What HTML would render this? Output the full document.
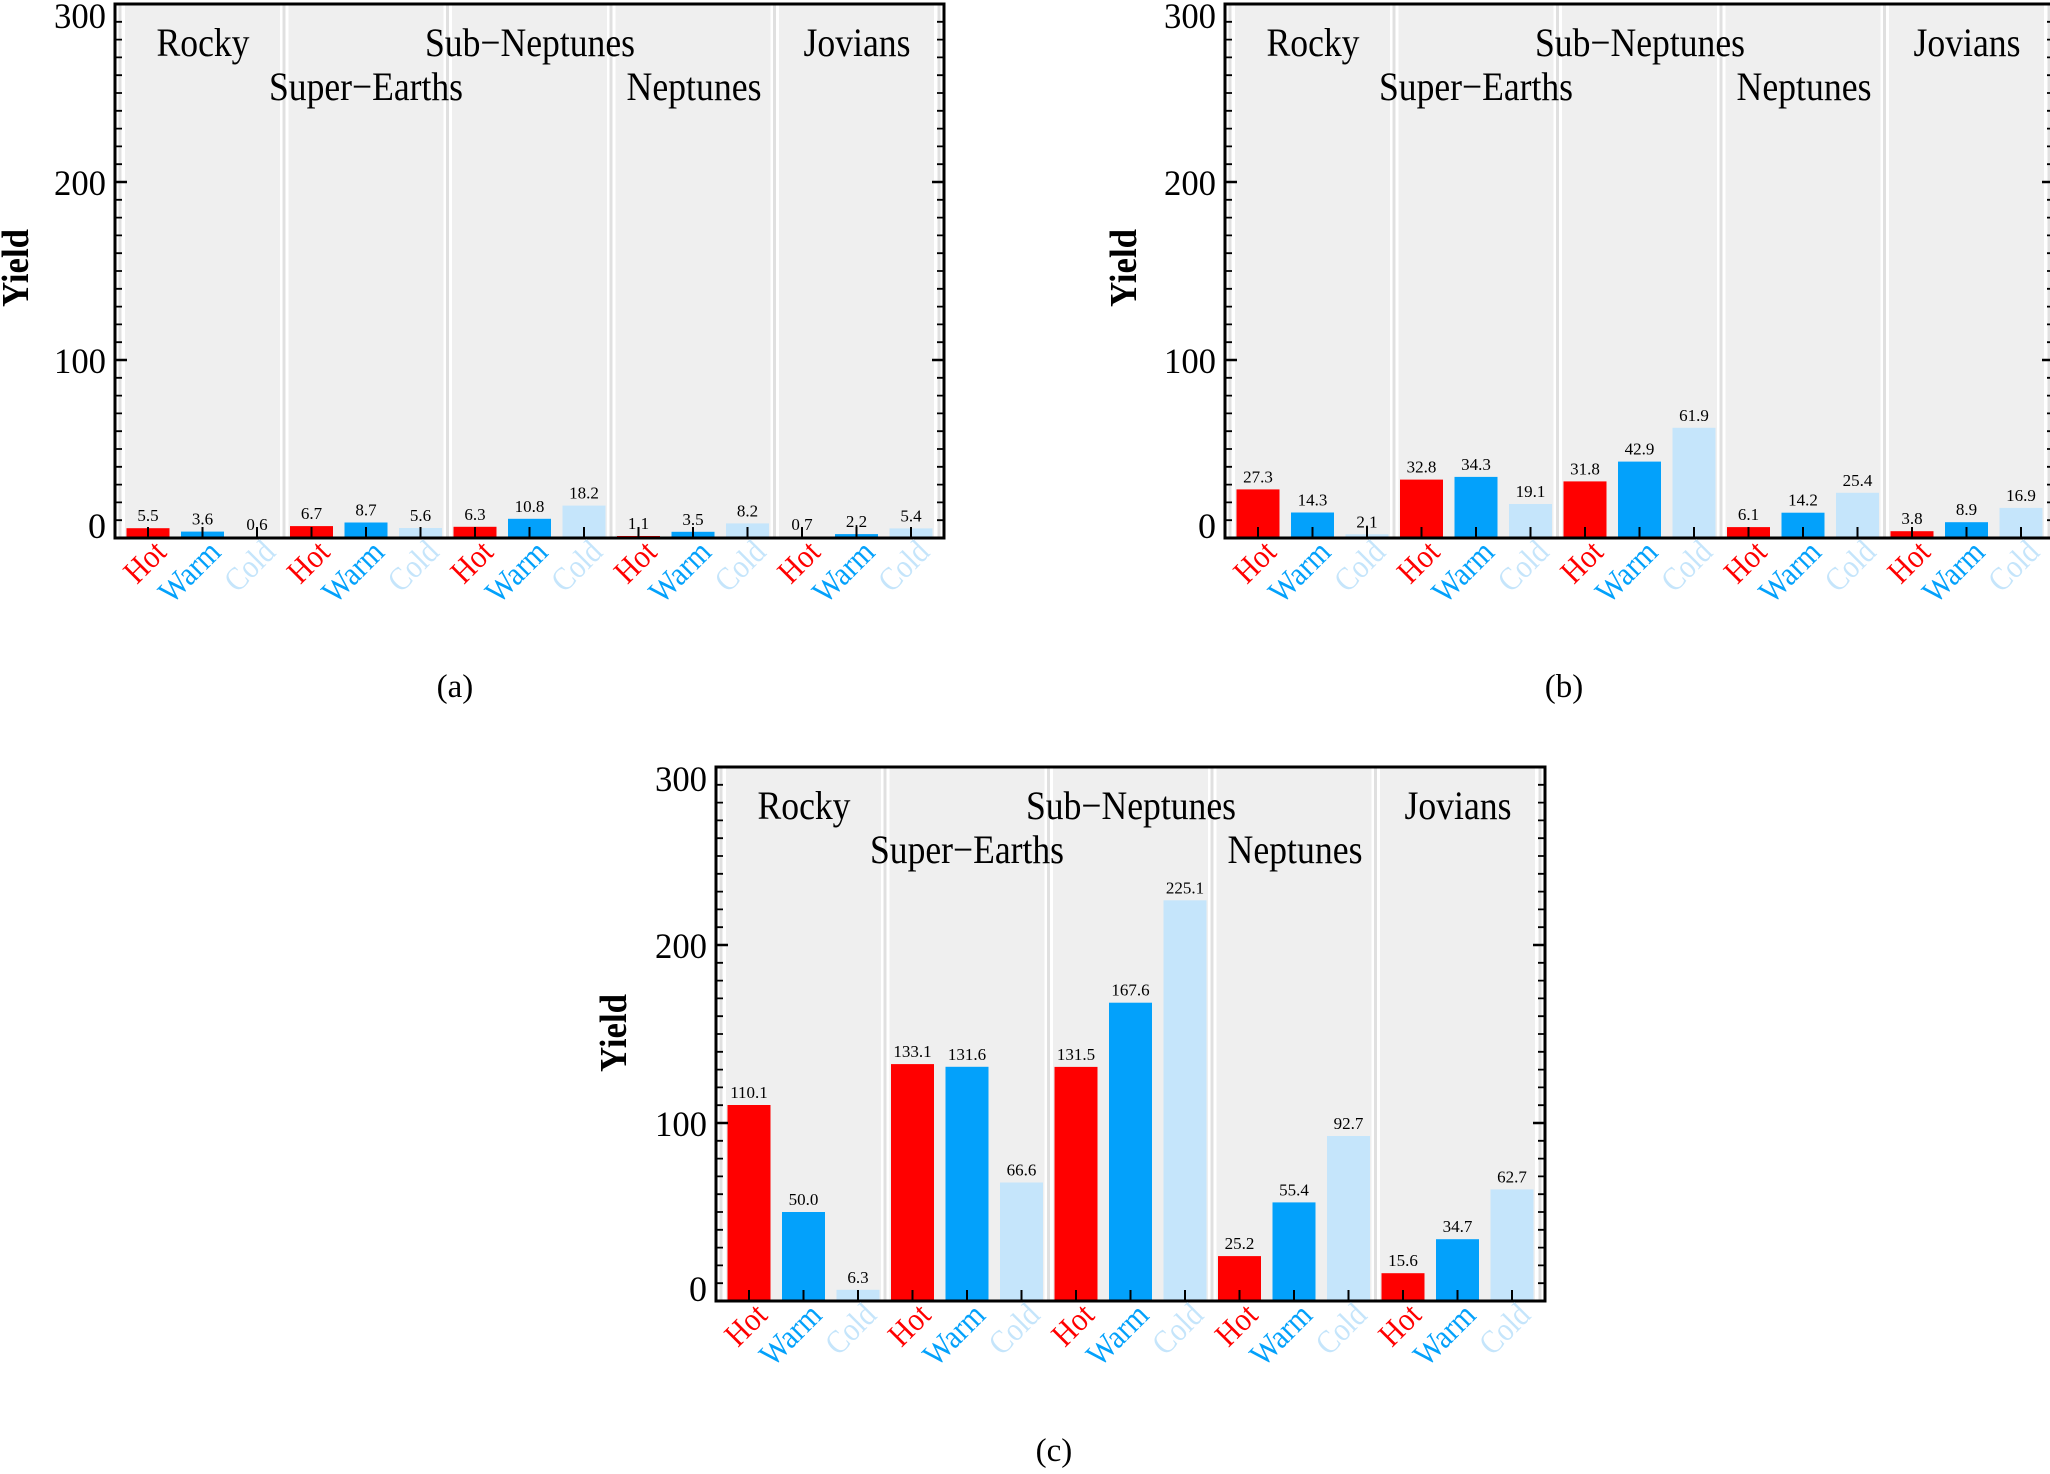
<!DOCTYPE html>
<html><head><meta charset="utf-8"><style>
html,body{margin:0;padding:0;background:#fff;width:2050px;height:1474px;overflow:hidden}
svg{display:block}
text{font-family:"Liberation Serif","DejaVu Serif",serif;fill:#000}
.v{font-size:17px;text-anchor:middle}
.t{font-size:36px;text-anchor:end}
.cat{font-size:40px;text-anchor:middle}
.xl{font-size:33px;text-anchor:end}
.h{fill:#ff0000}.w{fill:#03a1fb}.c{fill:#c5e5fb}
</style></head><body>
<svg width="2050" height="1474" viewBox="0 0 2050 1474" xmlns="http://www.w3.org/2000/svg">
<defs>
<g id="frame">
<rect x="115" y="4" width="829" height="534" fill="#fff"/>
<rect x="125" y="4" width="155" height="534" fill="#efefef"/>
<rect x="288.5" y="4" width="155" height="534" fill="#efefef"/>
<rect x="452" y="4" width="155" height="534" fill="#efefef"/>
<rect x="615.5" y="4" width="155" height="534" fill="#efefef"/>
<rect x="779" y="4" width="155" height="534" fill="#efefef"/>
<path d="M120 4V538M284 4V538M447.5 4V538M611 4V538M774.5 4V538M939 4V538" stroke="#e0e0e0" stroke-width="3"/>
</g>
<g id="axes">
<path d="M148 538v-11M202.5 538v-11M257 538v-11M311.5 538v-11M366 538v-11M420.5 538v-11M475 538v-11M529.5 538v-11M584 538v-11M638.5 538v-11M693 538v-11M747.5 538v-11M802 538v-11M856.5 538v-11M911 538v-11" stroke="#000" stroke-width="2"/>
<path d="M115 360h12M115 182h12M944 360h-12M944 182h-12" stroke="#000" stroke-width="2.5"/>
<path d="M115 520.2h7M944 520.2h-7M115 502.4h7M944 502.4h-7M115 484.6h7M944 484.6h-7M115 466.8h7M944 466.8h-7M115 449h7M944 449h-7M115 431.2h7M944 431.2h-7M115 413.4h7M944 413.4h-7M115 395.6h7M944 395.6h-7M115 377.8h7M944 377.8h-7M115 342.2h7M944 342.2h-7M115 324.4h7M944 324.4h-7M115 306.6h7M944 306.6h-7M115 288.8h7M944 288.8h-7M115 271h7M944 271h-7M115 253.2h7M944 253.2h-7M115 235.4h7M944 235.4h-7M115 217.6h7M944 217.6h-7M115 199.8h7M944 199.8h-7M115 164.2h7M944 164.2h-7M115 146.4h7M944 146.4h-7M115 128.6h7M944 128.6h-7M115 110.8h7M944 110.8h-7M115 93h7M944 93h-7M115 75.2h7M944 75.2h-7M115 57.4h7M944 57.4h-7M115 39.6h7M944 39.6h-7M115 21.8h7M944 21.8h-7" stroke="#000" stroke-width="1.8"/>
<rect x="115" y="4" width="829" height="534" fill="none" stroke="#000" stroke-width="3"/>
</g>
</defs>

<!-- Panel (a) -->
<g>
<use href="#frame"/>
<rect class="h" x="126.5" y="528.2" width="43" height="9.8"/>
<rect class="w" x="181" y="531.6" width="43" height="6.4"/>
<rect class="c" x="235.5" y="536.9" width="43" height="1.1"/>
<rect class="h" x="290" y="526.1" width="43" height="11.9"/>
<rect class="w" x="344.5" y="522.5" width="43" height="15.5"/>
<rect class="c" x="399" y="528" width="43" height="10"/>
<rect class="h" x="453.5" y="526.8" width="43" height="11.2"/>
<rect class="w" x="508" y="518.8" width="43" height="19.2"/>
<rect class="c" x="562.5" y="505.6" width="43" height="32.4"/>
<rect class="h" x="617" y="536" width="43" height="2"/>
<rect class="w" x="671.5" y="531.8" width="43" height="6.2"/>
<rect class="c" x="726" y="523.4" width="43" height="14.6"/>
<rect class="h" x="780.5" y="536.8" width="43" height="1.2"/>
<rect class="w" x="835" y="534.1" width="43" height="3.9"/>
<rect class="c" x="889.5" y="528.4" width="43" height="9.6"/>
<use href="#axes"/>
<text class="v" x="148" y="521">5.5</text><text class="v" x="202.5" y="524.6">3.6</text><text class="v" x="257" y="530">0.6</text>
<text class="v" x="311.5" y="519">6.7</text><text class="v" x="366" y="515.5">8.7</text><text class="v" x="420.5" y="521">5.6</text>
<text class="v" x="475" y="519.8">6.3</text><text class="v" x="529.5" y="511.8">10.8</text><text class="v" x="584" y="498.6">18.2</text>
<text class="v" x="638.5" y="529">1.1</text><text class="v" x="693" y="524.8">3.5</text><text class="v" x="747.5" y="516.4">8.2</text>
<text class="v" x="802" y="529.8">0.7</text><text class="v" x="856.5" y="527">2.2</text><text class="v" x="911" y="521.4">5.4</text>
<text class="t" x="106" y="28" textLength="52" lengthAdjust="spacingAndGlyphs">300</text><text class="t" x="106" y="195" textLength="52" lengthAdjust="spacingAndGlyphs">200</text><text class="t" x="106" y="373" textLength="52" lengthAdjust="spacingAndGlyphs">100</text><text class="t" x="106" y="538">0</text>
<text transform="translate(28,268) rotate(-90)" style="font-size:38px;font-weight:bold;text-anchor:middle" textLength="78" lengthAdjust="spacingAndGlyphs">Yield</text>
<text class="cat" x="203" y="56" textLength="93" lengthAdjust="spacingAndGlyphs">Rocky</text>
<text class="cat" x="366" y="100" textLength="194" lengthAdjust="spacingAndGlyphs">Super−Earths</text>
<text class="cat" x="530" y="56" textLength="210" lengthAdjust="spacingAndGlyphs">Sub−Neptunes</text>
<text class="cat" x="694" y="100" textLength="135" lengthAdjust="spacingAndGlyphs">Neptunes</text>
<text class="cat" x="857" y="56" textLength="107" lengthAdjust="spacingAndGlyphs">Jovians</text>
<text class="xl h" transform="translate(168,554) rotate(-45)" textLength="44" lengthAdjust="spacingAndGlyphs">Hot</text>
<text class="xl w" transform="translate(222.5,554) rotate(-45)" textLength="72" lengthAdjust="spacingAndGlyphs">Warm</text>
<text class="xl c" transform="translate(277,554) rotate(-45)" textLength="56" lengthAdjust="spacingAndGlyphs">Cold</text>
<text class="xl h" transform="translate(331.5,554) rotate(-45)" textLength="44" lengthAdjust="spacingAndGlyphs">Hot</text>
<text class="xl w" transform="translate(386,554) rotate(-45)" textLength="72" lengthAdjust="spacingAndGlyphs">Warm</text>
<text class="xl c" transform="translate(440.5,554) rotate(-45)" textLength="56" lengthAdjust="spacingAndGlyphs">Cold</text>
<text class="xl h" transform="translate(495,554) rotate(-45)" textLength="44" lengthAdjust="spacingAndGlyphs">Hot</text>
<text class="xl w" transform="translate(549.5,554) rotate(-45)" textLength="72" lengthAdjust="spacingAndGlyphs">Warm</text>
<text class="xl c" transform="translate(604,554) rotate(-45)" textLength="56" lengthAdjust="spacingAndGlyphs">Cold</text>
<text class="xl h" transform="translate(658.5,554) rotate(-45)" textLength="44" lengthAdjust="spacingAndGlyphs">Hot</text>
<text class="xl w" transform="translate(713,554) rotate(-45)" textLength="72" lengthAdjust="spacingAndGlyphs">Warm</text>
<text class="xl c" transform="translate(767.5,554) rotate(-45)" textLength="56" lengthAdjust="spacingAndGlyphs">Cold</text>
<text class="xl h" transform="translate(822,554) rotate(-45)" textLength="44" lengthAdjust="spacingAndGlyphs">Hot</text>
<text class="xl w" transform="translate(876.5,554) rotate(-45)" textLength="72" lengthAdjust="spacingAndGlyphs">Warm</text>
<text class="xl c" transform="translate(931,554) rotate(-45)" textLength="56" lengthAdjust="spacingAndGlyphs">Cold</text>
<text x="455" y="697" style="font-size:33px;text-anchor:middle">(a)</text>
</g>

<!-- Panel (b) -->
<g transform="translate(1110,0)">
<use href="#frame"/>
<rect class="h" x="126.5" y="489.4" width="43" height="48.6"/>
<rect class="w" x="181" y="512.5" width="43" height="25.5"/>
<rect class="c" x="235.5" y="534.3" width="43" height="3.7"/>
<rect class="h" x="290" y="479.6" width="43" height="58.4"/>
<rect class="w" x="344.5" y="476.9" width="43" height="61.1"/>
<rect class="c" x="399" y="504" width="43" height="34"/>
<rect class="h" x="453.5" y="481.4" width="43" height="56.6"/>
<rect class="w" x="508" y="461.6" width="43" height="76.4"/>
<rect class="c" x="562.5" y="427.8" width="43" height="110.2"/>
<rect class="h" x="617" y="527.1" width="43" height="10.9"/>
<rect class="w" x="671.5" y="512.7" width="43" height="25.3"/>
<rect class="c" x="726" y="492.8" width="43" height="45.2"/>
<rect class="h" x="780.5" y="531.2" width="43" height="6.8"/>
<rect class="w" x="835" y="522.2" width="43" height="15.8"/>
<rect class="c" x="889.5" y="507.9" width="43" height="30.1"/>
<use href="#axes"/>
<text class="v" x="148" y="482.4">27.3</text><text class="v" x="202.5" y="505.5">14.3</text><text class="v" x="257" y="527.3">2.1</text>
<text class="v" x="311.5" y="472.6">32.8</text><text class="v" x="366" y="469.9">34.3</text><text class="v" x="420.5" y="497">19.1</text>
<text class="v" x="475" y="474.4">31.8</text><text class="v" x="529.5" y="454.6">42.9</text><text class="v" x="584" y="420.8">61.9</text>
<text class="v" x="638.5" y="520.1">6.1</text><text class="v" x="693" y="505.7">14.2</text><text class="v" x="747.5" y="485.8">25.4</text>
<text class="v" x="802" y="524.2">3.8</text><text class="v" x="856.5" y="515.2">8.9</text><text class="v" x="911" y="500.9">16.9</text>
<text class="t" x="106" y="28" textLength="52" lengthAdjust="spacingAndGlyphs">300</text><text class="t" x="106" y="195" textLength="52" lengthAdjust="spacingAndGlyphs">200</text><text class="t" x="106" y="373" textLength="52" lengthAdjust="spacingAndGlyphs">100</text><text class="t" x="106" y="538">0</text>
<text transform="translate(26,268) rotate(-90)" style="font-size:38px;font-weight:bold;text-anchor:middle" textLength="78" lengthAdjust="spacingAndGlyphs">Yield</text>
<text class="cat" x="203" y="56" textLength="93" lengthAdjust="spacingAndGlyphs">Rocky</text>
<text class="cat" x="366" y="100" textLength="194" lengthAdjust="spacingAndGlyphs">Super−Earths</text>
<text class="cat" x="530" y="56" textLength="210" lengthAdjust="spacingAndGlyphs">Sub−Neptunes</text>
<text class="cat" x="694" y="100" textLength="135" lengthAdjust="spacingAndGlyphs">Neptunes</text>
<text class="cat" x="857" y="56" textLength="107" lengthAdjust="spacingAndGlyphs">Jovians</text>
<text class="xl h" transform="translate(168,554) rotate(-45)" textLength="44" lengthAdjust="spacingAndGlyphs">Hot</text>
<text class="xl w" transform="translate(222.5,554) rotate(-45)" textLength="72" lengthAdjust="spacingAndGlyphs">Warm</text>
<text class="xl c" transform="translate(277,554) rotate(-45)" textLength="56" lengthAdjust="spacingAndGlyphs">Cold</text>
<text class="xl h" transform="translate(331.5,554) rotate(-45)" textLength="44" lengthAdjust="spacingAndGlyphs">Hot</text>
<text class="xl w" transform="translate(386,554) rotate(-45)" textLength="72" lengthAdjust="spacingAndGlyphs">Warm</text>
<text class="xl c" transform="translate(440.5,554) rotate(-45)" textLength="56" lengthAdjust="spacingAndGlyphs">Cold</text>
<text class="xl h" transform="translate(495,554) rotate(-45)" textLength="44" lengthAdjust="spacingAndGlyphs">Hot</text>
<text class="xl w" transform="translate(549.5,554) rotate(-45)" textLength="72" lengthAdjust="spacingAndGlyphs">Warm</text>
<text class="xl c" transform="translate(604,554) rotate(-45)" textLength="56" lengthAdjust="spacingAndGlyphs">Cold</text>
<text class="xl h" transform="translate(658.5,554) rotate(-45)" textLength="44" lengthAdjust="spacingAndGlyphs">Hot</text>
<text class="xl w" transform="translate(713,554) rotate(-45)" textLength="72" lengthAdjust="spacingAndGlyphs">Warm</text>
<text class="xl c" transform="translate(767.5,554) rotate(-45)" textLength="56" lengthAdjust="spacingAndGlyphs">Cold</text>
<text class="xl h" transform="translate(822,554) rotate(-45)" textLength="44" lengthAdjust="spacingAndGlyphs">Hot</text>
<text class="xl w" transform="translate(876.5,554) rotate(-45)" textLength="72" lengthAdjust="spacingAndGlyphs">Warm</text>
<text class="xl c" transform="translate(931,554) rotate(-45)" textLength="56" lengthAdjust="spacingAndGlyphs">Cold</text>
<text x="454" y="697" style="font-size:33px;text-anchor:middle">(b)</text>
</g>

<!-- Panel (c) -->
<g transform="translate(601,763)">
<use href="#frame"/>
<rect class="h" x="126.5" y="342" width="43" height="196"/>
<rect class="w" x="181" y="449" width="43" height="89"/>
<rect class="c" x="235.5" y="526.8" width="43" height="11.2"/>
<rect class="h" x="290" y="301.1" width="43" height="236.9"/>
<rect class="w" x="344.5" y="303.8" width="43" height="234.2"/>
<rect class="c" x="399" y="419.5" width="43" height="118.5"/>
<rect class="h" x="453.5" y="303.9" width="43" height="234.1"/>
<rect class="w" x="508" y="239.7" width="43" height="298.3"/>
<rect class="c" x="562.5" y="137.3" width="43" height="400.7"/>
<rect class="h" x="617" y="493.1" width="43" height="44.9"/>
<rect class="w" x="671.5" y="439.4" width="43" height="98.6"/>
<rect class="c" x="726" y="373" width="43" height="165"/>
<rect class="h" x="780.5" y="510.2" width="43" height="27.8"/>
<rect class="w" x="835" y="476.2" width="43" height="61.8"/>
<rect class="c" x="889.5" y="426.4" width="43" height="111.6"/>
<use href="#axes"/>
<text class="v" x="148" y="335">110.1</text><text class="v" x="202.5" y="442">50.0</text><text class="v" x="257" y="519.8">6.3</text>
<text class="v" x="311.5" y="294.1">133.1</text><text class="v" x="366" y="296.8">131.6</text><text class="v" x="420.5" y="412.5">66.6</text>
<text class="v" x="475" y="296.9">131.5</text><text class="v" x="529.5" y="232.7">167.6</text><text class="v" x="584" y="130.3">225.1</text>
<text class="v" x="638.5" y="486.1">25.2</text><text class="v" x="693" y="432.4">55.4</text><text class="v" x="747.5" y="366">92.7</text>
<text class="v" x="802" y="503.2">15.6</text><text class="v" x="856.5" y="469.2">34.7</text><text class="v" x="911" y="419.4">62.7</text>
<text class="t" x="106" y="28" textLength="52" lengthAdjust="spacingAndGlyphs">300</text><text class="t" x="106" y="195" textLength="52" lengthAdjust="spacingAndGlyphs">200</text><text class="t" x="106" y="373" textLength="52" lengthAdjust="spacingAndGlyphs">100</text><text class="t" x="106" y="538">0</text>
<text transform="translate(25,270) rotate(-90)" style="font-size:38px;font-weight:bold;text-anchor:middle" textLength="78" lengthAdjust="spacingAndGlyphs">Yield</text>
<text class="cat" x="203" y="56" textLength="93" lengthAdjust="spacingAndGlyphs">Rocky</text>
<text class="cat" x="366" y="100" textLength="194" lengthAdjust="spacingAndGlyphs">Super−Earths</text>
<text class="cat" x="530" y="56" textLength="210" lengthAdjust="spacingAndGlyphs">Sub−Neptunes</text>
<text class="cat" x="694" y="100" textLength="135" lengthAdjust="spacingAndGlyphs">Neptunes</text>
<text class="cat" x="857" y="56" textLength="107" lengthAdjust="spacingAndGlyphs">Jovians</text>
<text class="xl h" transform="translate(168,554) rotate(-45)" textLength="44" lengthAdjust="spacingAndGlyphs">Hot</text>
<text class="xl w" transform="translate(222.5,554) rotate(-45)" textLength="72" lengthAdjust="spacingAndGlyphs">Warm</text>
<text class="xl c" transform="translate(277,554) rotate(-45)" textLength="56" lengthAdjust="spacingAndGlyphs">Cold</text>
<text class="xl h" transform="translate(331.5,554) rotate(-45)" textLength="44" lengthAdjust="spacingAndGlyphs">Hot</text>
<text class="xl w" transform="translate(386,554) rotate(-45)" textLength="72" lengthAdjust="spacingAndGlyphs">Warm</text>
<text class="xl c" transform="translate(440.5,554) rotate(-45)" textLength="56" lengthAdjust="spacingAndGlyphs">Cold</text>
<text class="xl h" transform="translate(495,554) rotate(-45)" textLength="44" lengthAdjust="spacingAndGlyphs">Hot</text>
<text class="xl w" transform="translate(549.5,554) rotate(-45)" textLength="72" lengthAdjust="spacingAndGlyphs">Warm</text>
<text class="xl c" transform="translate(604,554) rotate(-45)" textLength="56" lengthAdjust="spacingAndGlyphs">Cold</text>
<text class="xl h" transform="translate(658.5,554) rotate(-45)" textLength="44" lengthAdjust="spacingAndGlyphs">Hot</text>
<text class="xl w" transform="translate(713,554) rotate(-45)" textLength="72" lengthAdjust="spacingAndGlyphs">Warm</text>
<text class="xl c" transform="translate(767.5,554) rotate(-45)" textLength="56" lengthAdjust="spacingAndGlyphs">Cold</text>
<text class="xl h" transform="translate(822,554) rotate(-45)" textLength="44" lengthAdjust="spacingAndGlyphs">Hot</text>
<text class="xl w" transform="translate(876.5,554) rotate(-45)" textLength="72" lengthAdjust="spacingAndGlyphs">Warm</text>
<text class="xl c" transform="translate(931,554) rotate(-45)" textLength="56" lengthAdjust="spacingAndGlyphs">Cold</text>
<text x="453" y="698" style="font-size:33px;text-anchor:middle">(c)</text>
</g>
</svg>
</body></html>
